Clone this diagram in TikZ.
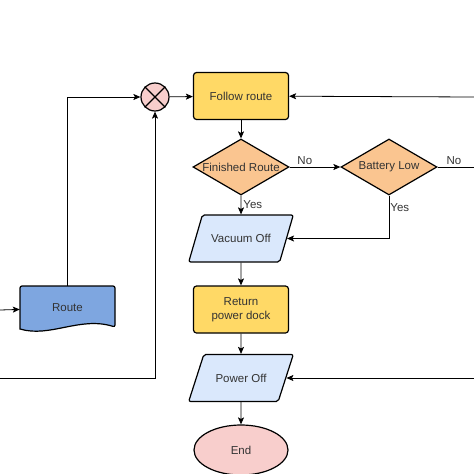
\documentclass[tikz,border=0pt]{standalone}
\usepackage{fontspec}
\setmainfont{Liberation Sans}
\usetikzlibrary{shapes.geometric,arrows.meta}
\definecolor{procyellow}{HTML}{FFD966}
\definecolor{decorange}{HTML}{FAC590}
\definecolor{iolightblue}{HTML}{DAE8FC}
\definecolor{routeblue}{HTML}{7EA6E0}
\definecolor{endpink}{HTML}{F8CECC}
\definecolor{txtgray}{HTML}{333333}
\begin{document}
\begin{tikzpicture}[x=1pt,y=1pt,font=\fontsize{11.5}{13.5}\selectfont,
  proc/.style={draw,line width=1.2pt,rounded corners=3pt,fill=procyellow,text=txtgray,minimum width=95pt,minimum height=47pt,align=center},
  decision/.style={draw,diamond,line width=1.2pt,fill=decorange,minimum width=96pt,minimum height=56pt,inner sep=0pt},
  io/.style={draw,trapezium,trapezium left angle=76,trapezium right angle=104,trapezium stretches=true,line width=1.2pt,rounded corners=2pt,fill=iolightblue,text=txtgray,text height=8pt,text depth=0pt,inner ysep=19.5pt,minimum width=105pt},
  conn/.style={line width=0.8pt,-{Stealth[length=7pt,width=6pt,inset=1.5pt]}},
  plain/.style={line width=0.8pt},
  lbl/.style={text=txtgray,inner sep=2pt}]
\useasboundingbox (0,0) rectangle (474,-474);
% EDGE POINTS
\coordinate (inL) at (0,-310);
\coordinate (loopL) at (0,-378);
\coordinate (topR) at (474,-97);
\coordinate (noR) at (474,-167);
\coordinate (offR) at (474,-378);
% SUMMING JUNCTION
\node [draw,circle,fill=endpink,line width=1.2pt,minimum size=28pt] (sum) at (155,-97) {};
\draw [line width=1.2pt] (sum.north west) -- (sum.south east) (sum.north east) -- (sum.south west);
% MAIN COLUMN
\node [proc] (follow) at (241,-96) {Follow route};
\node [decision,label={[text=txtgray]center:Finished Route}] (done) at (241,-167) {};
\node [decision,label={[text=txtgray]center:Battery Low}] (batt) at (389,-167) {};
\node [io] (vac) at (241,-238.5) {Vacuum Off};
\node [proc] (ret) at (241,-309.5) {Return\\power dock};
\node [io] (poff) at (241,-378) {Power Off};
\node [draw,ellipse,line width=1.2pt,fill=endpink,text=txtgray,minimum width=94pt,minimum height=50pt] (endn) at (241,-450) {End};
% ROUTE DOCUMENT
\draw [line width=1.2pt,fill=routeblue] (20,-329) [rounded corners=2pt] -- (20,-286) -- (115,-286) -- (115,-327) [sharp corners] .. controls (80,-316) and (50,-338) .. (20,-329) -- cycle;
\node [text=txtgray,minimum width=95pt,minimum height=44pt] (route) at (67.5,-308) {Route};
% CONNECTORS
\draw [conn] (inL) -- (route);
\draw [conn] (route.north) |- (sum);
\draw [conn] (loopL) -| (sum);
\draw [conn] (sum) -- (follow);
\draw [conn] (topR) -- (follow);
\draw [conn] (follow) -- (done);
\draw [conn] (done) -- node [lbl,pos=0.3,above] {No} (batt);
\draw [plain] (batt) -- node [lbl,pos=0.45,above] {No} (noR);
\draw [conn] (done) -- node [lbl,right] {Yes} (vac);
\draw [conn] (batt) |- node [lbl,pos=0.14,right,inner sep=1pt] {Yes} (vac);
\draw [conn] (vac) -- (ret);
\draw [conn] (ret) -- (poff);
\draw [conn] (offR) -- (poff);
\draw [conn] (poff) -- (endn);
\end{tikzpicture}
\end{document}
